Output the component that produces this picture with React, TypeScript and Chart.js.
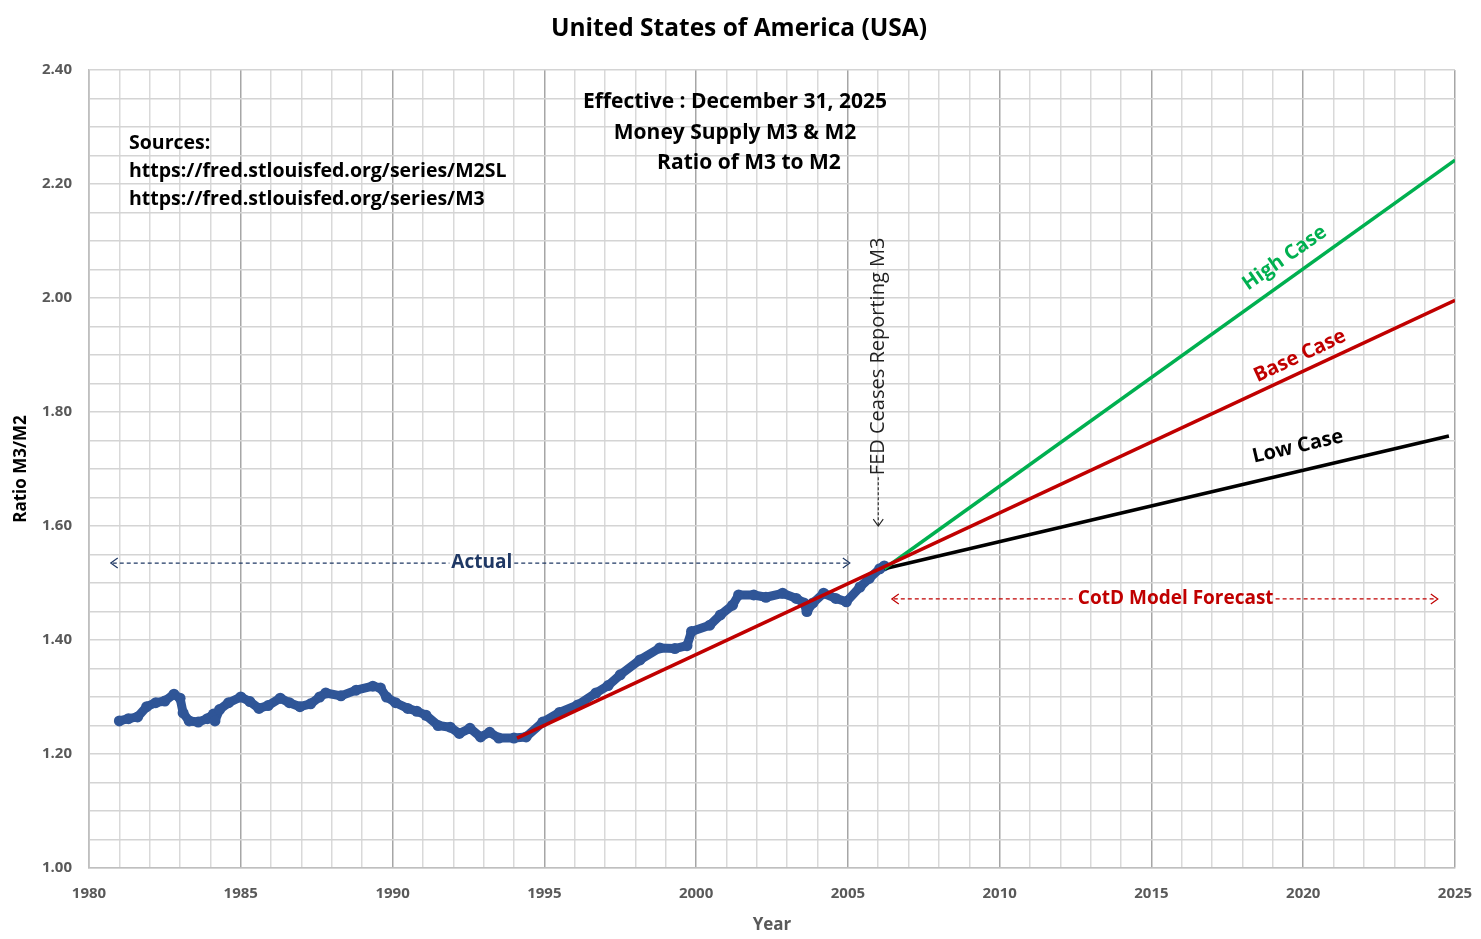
import React, { useEffect, useRef } from 'react';
import { Chart, registerables } from 'chart.js';
Chart.register(...registerables);

const chartTitle = 'United States of America (USA)';
const infoLines = ['Effective : December 31, 2025', 'Money Supply M3 & M2', 'Ratio of M3 to M2'];
const sourceLines = ['Sources:', 'https://fred.stlouisfed.org/series/M2SL', 'https://fred.stlouisfed.org/series/M3'];

const actualYears = [
  1981.0, 1981.3, 1981.6, 1981.9, 1982.2, 1982.5, 1982.8, 1983.0, 1983.1, 1983.3, 1983.6, 1983.9,
  1984.1, 1984.15, 1984.3, 1984.6, 1985.0, 1985.3, 1985.6, 1985.9, 1986.3, 1986.6, 1986.95, 1987.3,
  1987.6, 1987.8, 1988.3, 1988.8, 1989.35, 1989.6, 1989.8, 1990.1, 1990.5, 1990.8, 1991.1, 1991.5,
  1991.9, 1992.2, 1992.55, 1992.9, 1993.2, 1993.5, 1994.0, 1994.4, 1994.95, 1995.5, 1996.1, 1996.7,
  1997.1, 1997.5, 1998.15, 1998.8, 1999.3, 1999.7, 1999.85, 2000.45, 2000.8, 2001.2, 2001.4, 2001.9,
  2002.3, 2002.85, 2003.3, 2003.55, 2003.65, 2003.85, 2004.2, 2004.6, 2004.95, 2005.4, 2005.7, 2006.05, 2006.2,
];
const actualRatio = [
  1.258, 1.262, 1.265, 1.283, 1.29, 1.293, 1.305, 1.298, 1.272, 1.258, 1.256, 1.262,
  1.27, 1.258, 1.278, 1.29, 1.3, 1.292, 1.28, 1.285, 1.298, 1.29, 1.283, 1.288,
  1.3, 1.307, 1.302, 1.312, 1.319, 1.316, 1.3, 1.29, 1.28, 1.275, 1.268, 1.25,
  1.247, 1.236, 1.245, 1.23, 1.238, 1.228, 1.228, 1.23, 1.256, 1.273, 1.286, 1.307,
  1.32, 1.339, 1.365, 1.386, 1.385, 1.39, 1.415, 1.426, 1.444, 1.461, 1.479, 1.479,
  1.475, 1.482, 1.473, 1.465, 1.45, 1.465, 1.482, 1.473, 1.467, 1.493, 1.508, 1.525, 1.53,
];
const baseYears = [1994.1, 2025];
const baseRatio = [1.228, 1.996];
const highYears = [2006.2, 2025];
const highRatio = [1.525, 2.242];
const lowYears = [2006.2, 2024.8];
const lowRatio = [1.525, 1.758];

const xMin = 1980;
const xMax = 2025;
const yMin = 1.0;
const yMax = 2.4;

const pts = (xs: number[], ys: number[]) => xs.map((x, i) => ({ x, y: ys[i] }));

const FONT = '"Open Sans", Lato, sans-serif';

const annotPlugin = {
  id: 'annot',
  afterDraw(chart: any) {
    const { ctx } = chart;
    const x = chart.scales.x;
    const y = chart.scales.y;
    const px = (v: number) => x.getPixelForValue(v);
    const py = (v: number) => y.getPixelForValue(v);
    ctx.save();
    ctx.textBaseline = 'middle';

    // Title
    ctx.fillStyle = '#000';
    ctx.textAlign = 'center';
    ctx.font = `bold 24.5px ${FONT}`;
    ctx.fillText(chartTitle, 739, 29);

    // Info block
    ctx.font = `bold 21px ${FONT}`;
    ctx.fillText(infoLines[0], 735, 102);
    ctx.fillText(infoLines[1], 735, 133);
    ctx.fillText(infoLines[2], 749, 163);

    // Sources
    ctx.textAlign = 'left';
    ctx.font = `bold 19.5px ${FONT}`;
    ctx.fillText(sourceLines[0], 129, 143);
    ctx.fillText(sourceLines[1], 129, 171);
    ctx.fillText(sourceLines[2], 129, 199);

    // Axis titles
    ctx.fillStyle = '#000';
    ctx.font = `bold 17px ${FONT}`;
    ctx.save();
    ctx.translate(21, 469);
    ctx.rotate(-Math.PI / 2);
    ctx.textAlign = 'center';
    ctx.fillText('Ratio M3/M2', 0, 0);
    ctx.restore();
    ctx.fillStyle = '#595959';
    ctx.font = `bold 17px ${FONT}`;
    ctx.textAlign = 'center';
    ctx.fillText('Year', 772, 925);

    // Dashed arrow with label
    const arrow = (x0: number, x1: number, yy: number, label: string, color: string, lx: number) => {
      ctx.font = `bold 19px ${FONT}`;
      const w = ctx.measureText(label).width;
      ctx.strokeStyle = color;
      ctx.fillStyle = color;
      ctx.lineWidth = 1.2;
      ctx.setLineDash([4, 3]);
      ctx.beginPath();
      ctx.moveTo(x0 + 4, yy);
      ctx.lineTo(lx - w / 2 - 2, yy);
      ctx.moveTo(lx + w / 2 + 2, yy);
      ctx.lineTo(x1 - 4, yy);
      ctx.stroke();
      ctx.setLineDash([]);
      ctx.beginPath();
      ctx.moveTo(x0 + 9, yy - 5);
      ctx.lineTo(x0 + 2, yy);
      ctx.lineTo(x0 + 9, yy + 5);
      ctx.moveTo(x1 - 9, yy - 5);
      ctx.lineTo(x1 - 2, yy);
      ctx.lineTo(x1 - 9, yy + 5);
      ctx.stroke();
      ctx.textAlign = 'center';
      ctx.fillText(label, lx, yy);
    };
    arrow(px(1980.65), px(2005.13), py(1.535), 'Actual', '#1f3864', px(1992.94));
    arrow(px(2006.38), px(2024.5), py(1.472), 'CotD Model Forecast', '#c00000', px(2015.8));

    // FED vertical annotation
    ctx.save();
    const fx = px(2006.0);
    const fy = py(1.598);
    ctx.translate(fx, fy);
    ctx.rotate(-Math.PI / 2);
    ctx.strokeStyle = '#222';
    ctx.fillStyle = '#222';
    ctx.lineWidth = 1.1;
    ctx.setLineDash([3, 2]);
    ctx.beginPath();
    ctx.moveTo(2, 0);
    ctx.lineTo(50, 0);
    ctx.stroke();
    ctx.setLineDash([]);
    ctx.beginPath();
    ctx.moveTo(8, -5);
    ctx.lineTo(1, 0);
    ctx.lineTo(8, 5);
    ctx.stroke();
    ctx.font = `20px ${FONT}`;
    ctx.textAlign = 'left';
    ctx.fillText('FED Ceases Reporting M3', 52, 0);
    ctx.restore();

    // Case labels
    const caseLabel = (text: string, yr: number, v: number, ang: number, color: string) => {
      ctx.save();
      ctx.translate(px(yr), py(v));
      ctx.rotate((-ang * Math.PI) / 180);
      ctx.fillStyle = color;
      ctx.font = `bold 20px ${FONT}`;
      ctx.textAlign = 'center';
      ctx.fillText(text, 0, 0);
      ctx.restore();
    };
    caseLabel('High Case', 2019.39, 2.07, 35, '#00b050');
    caseLabel('Base Case', 2019.89, 1.898, 25, '#c00000');
    caseLabel('Low Case', 2019.82, 1.739, 13, '#000000');

    ctx.restore();
  },
};

export default function App() {
  const ref = useRef<HTMLCanvasElement>(null);
  useEffect(() => {
    if (!ref.current) return;
    Chart.defaults.font.family = FONT;
    const chart = new Chart(ref.current, {
      type: 'scatter',
      data: {
        datasets: [
          {
            label: 'Base Case',
            data: pts(baseYears, baseRatio),
            showLine: true,
            borderColor: '#c00000',
            borderWidth: 3.5,
            pointRadius: 0,
          },
          {
            label: 'High Case',
            data: pts(highYears, highRatio),
            showLine: true,
            borderColor: '#00b050',
            borderWidth: 3.5,
            pointRadius: 0,
          },
          {
            label: 'Low Case',
            data: pts(lowYears, lowRatio),
            showLine: true,
            borderColor: '#000000',
            borderWidth: 3.5,
            pointRadius: 0,
          },
          {
            label: 'Actual',
            data: pts(actualYears, actualRatio),
            showLine: true,
            borderColor: '#2f5597',
            backgroundColor: '#2f5597',
            borderWidth: 9,
            borderCapStyle: 'round',
            borderJoinStyle: 'round',
            pointRadius: 5.5,
            pointBorderWidth: 0,
          },
        ],
      },
      options: {
        animation: false,
        responsive: true,
        maintainAspectRatio: false,
        layout: { padding: { top: 70, right: 26, bottom: 0, left: 0 } },
        plugins: { legend: { display: false }, tooltip: { enabled: false }, title: { display: false } },
        scales: {
          x: {
            type: 'linear',
            min: xMin,
            max: xMax,
            afterFit: (s: any) => {
              s.height = 71;
              s.paddingLeft = 0;
              s.paddingRight = 0;
            },
            ticks: {
              stepSize: 1,
              autoSkip: false,
              maxRotation: 0,
              padding: 17,
              color: '#595959',
              font: { size: 15, weight: 'bold' },
              callback: (v: any) => (Math.round(v) % 5 === 0 ? String(Math.round(v)) : ''),
            },
            grid: {
              drawTicks: false,
              lineWidth: 1.5,
              color: (c: any) => (c.tick && Math.round(c.tick.value) % 5 === 0 ? '#a6a6a6' : '#d9d9d9'),
            },
            border: { color: '#bfbfbf', width: 1.5 },
          },
          y: {
            type: 'linear',
            min: yMin,
            max: yMax,
            afterFit: (s: any) => {
              s.width = 89;
              s.paddingTop = 0;
              s.paddingBottom = 0;
            },
            ticks: {
              stepSize: 0.05,
              autoSkip: false,
              padding: 17,
              color: '#595959',
              font: { size: 15, weight: 'bold' },
              callback: (v: any) => (Math.round(v * 100) % 20 === 0 ? Number(v).toFixed(2) : ''),
            },
            grid: {
              drawTicks: false,
              lineWidth: 1.5,
              color: '#d4d4d4',
            },
            border: { color: '#bfbfbf', width: 1.5 },
          },
        },
      },
      plugins: [annotPlugin],
    } as any);
    return () => chart.destroy();
  }, []);
  return (
    <div style={{ position: 'fixed', left: 0, top: 0, width: 1481, height: 939, background: '#fff' }}>
      <canvas ref={ref} />
    </div>
  );
}
